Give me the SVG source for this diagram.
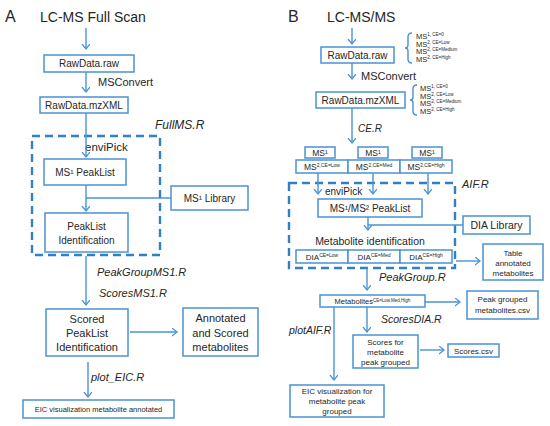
<svg xmlns="http://www.w3.org/2000/svg" width="550" height="426" viewBox="0 0 550 426">
<defs>
<marker id="ah" markerUnits="userSpaceOnUse" markerWidth="10" markerHeight="10" refX="5" refY="4" orient="auto">
<path d="M0,0 L5,4 L0,8" fill="none" stroke="#4a93d4" stroke-width="1.3"/>
</marker>
</defs>
<style>
text{font-family:"Liberation Sans",Arial,sans-serif;fill:#262626}
.box{fill:#fff;stroke:#4a93d4;stroke-width:1.5}
.dash{fill:none;stroke:#2f80c8;stroke-width:2.4;stroke-dasharray:8,5}
.ln{fill:none;stroke:#4a93d4;stroke-width:1.4}
.arr{fill:none;stroke:#4a93d4;stroke-width:1.4;marker-end:url(#ah)}
.it{font-style:italic}
.m{text-anchor:middle}
.br{font-size:7.5px}
.br tspan{font-size:4.5px}
</style>
<rect width="550" height="426" fill="#fff"/>

<!-- Panel A -->
<text x="5" y="22" font-size="16">A</text>
<text x="40" y="22" font-size="14">LC-MS Full Scan</text>
<text x="98" y="86" font-size="11">MSConvert</text>
<text x="155" y="129" font-size="12" class="it">FullMS.R</text>
<rect class="dash" x="32" y="136" width="128" height="119"/>
<text x="85" y="151" font-size="11.5">enviPick</text>
<text x="97" y="276" font-size="11" class="it">PeakGroupMS1.R</text>
<text x="99" y="297" font-size="11" class="it">ScoresMS1.R</text>
<text x="91" y="381" font-size="11" class="it">plot_EIC.R</text>

<g id="a-raw"><rect class="box" x="44" y="55" width="90" height="17"/><text x="89" y="67" font-size="10" class="m">RawData.raw</text></g>
<g id="a-mzxml"><rect class="box" x="40" y="97" width="88" height="16"/><text x="84" y="109" font-size="10" class="m">RawData.mzXML</text></g>
<g id="a-peaklist"><rect class="box" x="44" y="159" width="82" height="26"/><text x="85" y="176" font-size="10" class="m">MS¹ PeakList</text></g>
<g id="a-lib"><rect class="box" x="171" y="186" width="77" height="24"/><text x="209.5" y="202" font-size="10" class="m">MS¹ Library</text></g>
<g id="a-ident"><rect class="box" x="45" y="213" width="83" height="39"/><text x="86.5" y="230" font-size="10" class="m">PeakList</text><text x="86.5" y="244" font-size="10" class="m">Identification</text></g>
<g id="a-scored"><rect class="box" x="46" y="309" width="82" height="47"/><text x="87" y="323" font-size="11" class="m">Scored</text><text x="87" y="337" font-size="11" class="m">PeakList</text><text x="87" y="351" font-size="11" class="m">Identification</text></g>
<g id="a-annot"><rect class="box" x="183" y="308" width="75" height="48"/><text x="220.5" y="322" font-size="11" class="m">Annotated</text><text x="220.5" y="337" font-size="11" class="m">and Scored</text><text x="220.5" y="351" font-size="11" class="m">metabolites</text></g>
<g id="a-eic"><rect class="box" x="23" y="400" width="151" height="18"/><text x="98.5" y="412" font-size="7.5" class="m">EIC visualization metabolite annotated</text></g>

<!-- Panel B -->
<text x="288" y="22" font-size="16">B</text>
<text x="327" y="22" font-size="14">LC-MS/MS</text>
<text x="361" y="80" font-size="11">MSConvert</text>
<text x="358" y="132" font-size="10" class="it">CE.R</text>
<rect class="dash" x="289" y="183" width="166" height="85"/>
<text x="325" y="195" font-size="10">enviPick</text>
<text x="462" y="188" font-size="11" class="it">AIF.R</text>
<text x="370" y="245" font-size="10.5" class="m">Metabolite identification</text>
<text x="379" y="281" font-size="11" class="it">PeakGroup.R</text>
<text x="381" y="323" font-size="10.5" class="it">ScoresDIA.R</text>
<text x="289" y="334" font-size="10.5" class="it">plotAIF.R</text>

<g id="b-brace1">
<path class="ln" d="M412,33 Q408,33 408,37 L408,45 Q408,48 405,48 Q408,48 408,51 L408,59 Q408,63 412,63"/>
<text class="br" x="416" y="39">MS<tspan dy="-2.8">1, CE=0</tspan></text>
<text class="br" x="416" y="46.5">MS<tspan dy="-2.8">2, CE=Low</tspan></text>
<text class="br" x="416" y="54">MS<tspan dy="-2.8">2, CE=Medium</tspan></text>
<text class="br" x="416" y="61.5">MS<tspan dy="-2.8">2, CE=High</tspan></text>
</g>
<g id="b-brace2">
<path class="ln" d="M417,85 Q413,85 413,89 L413,97 Q413,100 410,100 Q413,100 413,103 L413,111 Q413,115 417,115"/>
<text class="br" x="420" y="91">MS<tspan dy="-2.8">1, CE=0</tspan></text>
<text class="br" x="420" y="98.5">MS<tspan dy="-2.8">2, CE=Low</tspan></text>
<text class="br" x="420" y="106">MS<tspan dy="-2.8">2, CE=Medium</tspan></text>
<text class="br" x="420" y="113.5">MS<tspan dy="-2.8">2, CE=High</tspan></text>
</g>

<g id="b-raw"><rect class="box" x="321" y="47" width="73" height="16"/><text x="357.5" y="59" font-size="10" class="m">RawData.raw</text></g>
<g id="b-mzxml"><rect class="box" x="316" y="92" width="89" height="16"/><text x="360.5" y="104" font-size="10" class="m">RawData.mzXML</text></g>

<g id="b-ms1-low"><rect class="box" x="305" y="147" width="30" height="11"/><text x="320" y="156" font-size="8.5" class="m">MS¹</text></g>
<g id="b-ms1-med"><rect class="box" x="358" y="147" width="30" height="11"/><text x="373" y="156" font-size="8.5" class="m">MS¹</text></g>
<g id="b-ms1-high"><rect class="box" x="412" y="147" width="30" height="11"/><text x="427" y="156" font-size="8.5" class="m">MS¹</text></g>
<g id="b-ms2-low"><rect class="box" x="296" y="160" width="52" height="13"/><text x="322" y="170" font-size="8.5" class="m">MS<tspan font-size="5" dy="-3">2,CE=Low</tspan></text></g>
<g id="b-ms2-med"><rect class="box" x="348" y="160" width="52" height="13"/><text x="374" y="170" font-size="8.5" class="m">MS<tspan font-size="5" dy="-3">2,CE=Med</tspan></text></g>
<g id="b-ms2-high"><rect class="box" x="400" y="160" width="52" height="13"/><text x="426" y="170" font-size="8.5" class="m">MS<tspan font-size="5" dy="-3">2,CE=High</tspan></text></g>

<g id="b-peaklist"><rect class="box" x="318" y="199" width="104" height="18"/><text x="370" y="212" font-size="10" class="m">MS¹/MS² PeakList</text></g>
<g id="b-dialib"><rect class="box" x="463" y="216" width="67" height="18"/><text x="496.5" y="229" font-size="10.5" class="m">DIA Library</text></g>
<g id="b-dia-low"><rect class="box" x="296" y="250" width="52" height="13"/><text x="322" y="260" font-size="8" class="m">DIA<tspan font-size="5" dy="-3">CE=Low</tspan></text></g>
<g id="b-dia-med"><rect class="box" x="348" y="250" width="52" height="13"/><text x="374" y="260" font-size="8" class="m">DIA<tspan font-size="5" dy="-3">CE=Med</tspan></text></g>
<g id="b-dia-high"><rect class="box" x="400" y="250" width="52" height="13"/><text x="426" y="260" font-size="8" class="m">DIA<tspan font-size="5" dy="-3">CE=High</tspan></text></g>
<g id="b-table"><rect class="box" x="483" y="244" width="60" height="36"/><text x="513" y="256" font-size="8" class="m">Table</text><text x="513" y="266" font-size="8" class="m">annotated</text><text x="513" y="276" font-size="8" class="m">metabolites</text></g>
<g id="b-metab"><rect class="box" x="320" y="295" width="105" height="12"/><text x="372.5" y="304" font-size="7.5" class="m">Metabolites<tspan font-size="4.5" dy="-2.5">CE=Low,Med,High</tspan></text></g>
<g id="b-peakgrouped"><rect class="box" x="467" y="291" width="71" height="28"/><text x="502.5" y="302" font-size="8" class="m">Peak grouped</text><text x="502.5" y="313" font-size="8" class="m">metabolites.csv</text></g>
<g id="b-scores"><rect class="box" x="353" y="335" width="65" height="33"/><text x="385.5" y="345" font-size="8" class="m">Scores for</text><text x="385.5" y="355" font-size="8" class="m">metabolite</text><text x="385.5" y="365" font-size="8" class="m">peak grouped</text></g>
<g id="b-scorescsv"><rect class="box" x="448" y="344" width="51" height="13"/><text x="473.5" y="353.5" font-size="8" class="m">Scores.csv</text></g>
<g id="b-eic"><rect class="box" x="290" y="385" width="94" height="32"/><text x="337" y="394" font-size="8" class="m">EIC visualization for</text><text x="337" y="404" font-size="8" class="m">metabolite peak</text><text x="337" y="414" font-size="8" class="m">grouped</text></g>

<g id="connectors">
<path class="arr" d="M86,28 V49"/>
<path class="arr" d="M86,72 V92"/>
<path class="arr" d="M86,113 V157"/>
<path class="arr" d="M86,185 V211"/>
<path class="ln" d="M86,198 H171"/>
<path class="arr" d="M86,256 V305"/>
<path class="arr" d="M130,332 H177"/>
<path class="arr" d="M88,362 V397"/>

<path class="arr" d="M352,28 V44"/>
<path class="arr" d="M352,63 V79"/>
<path class="arr" d="M352,108 V143"/>
<path class="arr" d="M318,173 V194"/>
<path class="arr" d="M373,173 V194"/>
<path class="arr" d="M428,173 V194"/>
<path class="arr" d="M368,217 V230"/>
<path class="ln" d="M368,225 H463"/>
<path class="arr" d="M456,261 H480"/>
<path class="arr" d="M367,268 V290"/>
<path class="arr" d="M425,302 H460"/>
<path class="arr" d="M334,307 V380"/>
<path class="arr" d="M367,307 V332"/>
<path class="arr" d="M420,350 H444"/>
</g>
</svg>
